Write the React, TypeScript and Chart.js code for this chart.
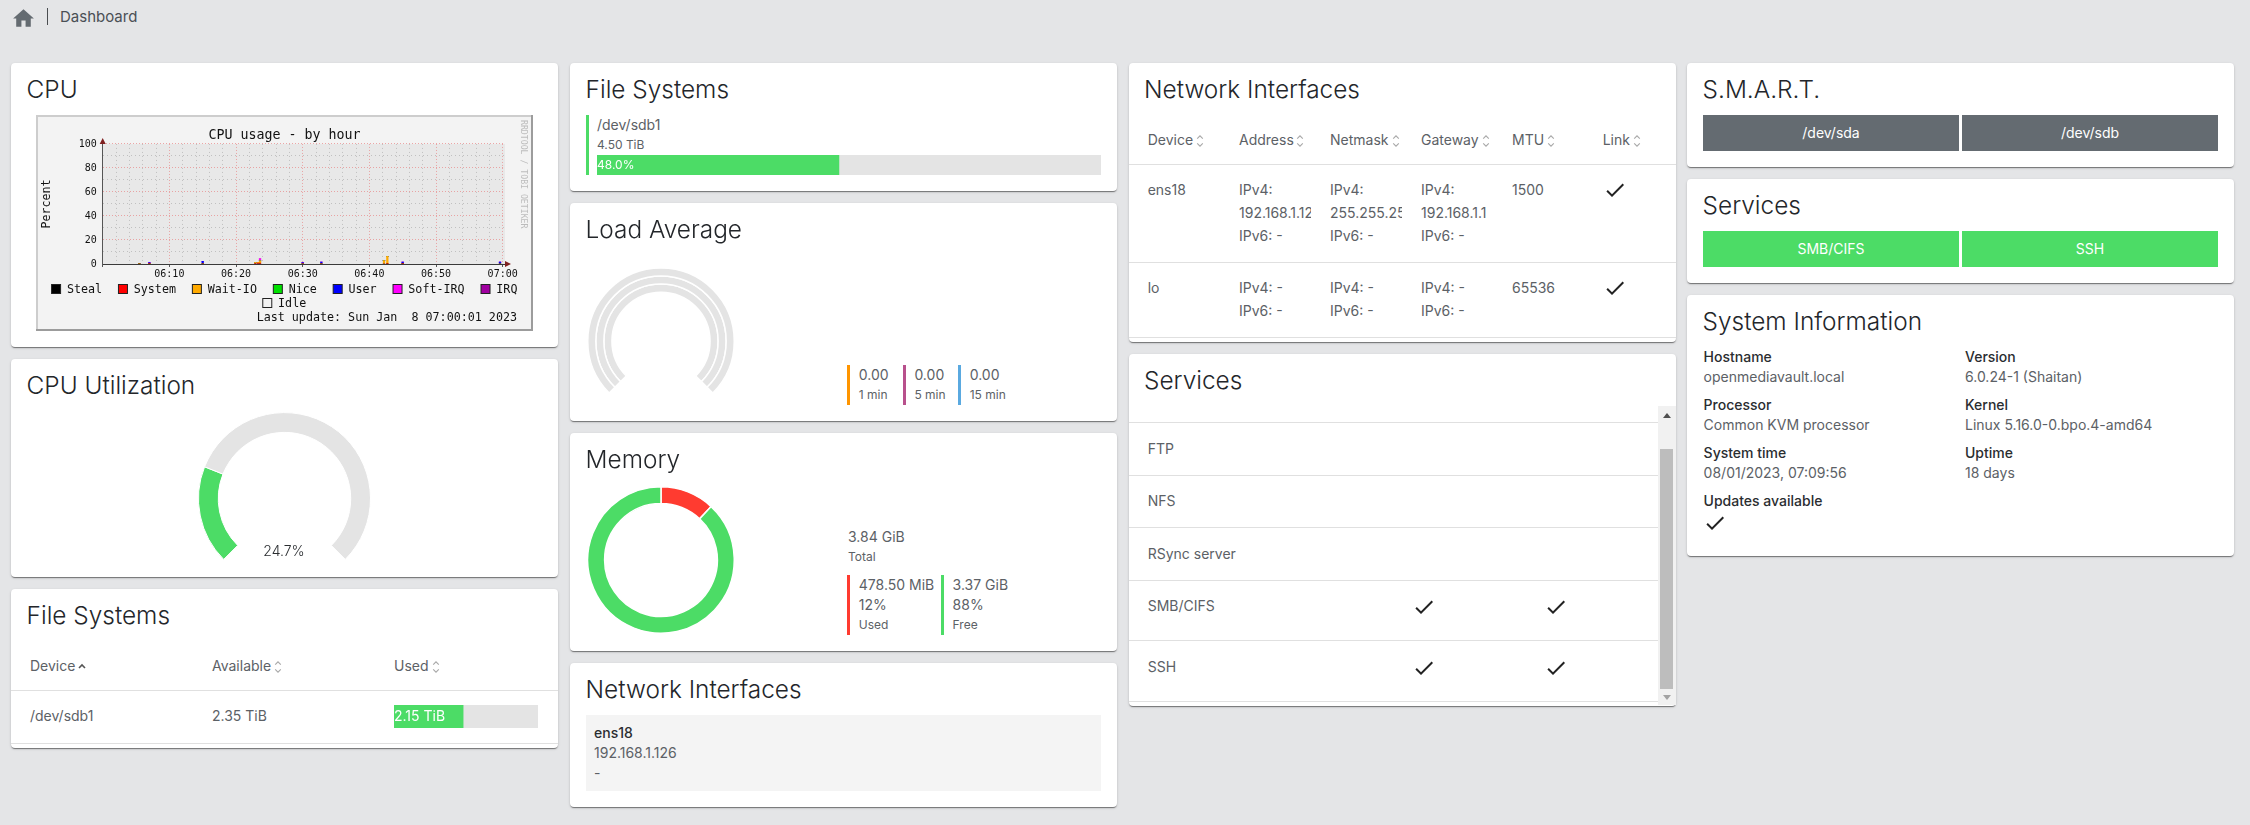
import React, { useEffect, useRef } from "react";
import { Chart, registerables } from "chart.js";

Chart.register(...registerables);

// ---------- data ----------
const cpuMinutes = [5.5, 7, 15, 22.9, 23.3, 23.6, 30, 32.8, 42.2, 42.7, 45, 59.6];
const cpuSteal = [0, 0, 0, 0, 0, 0, 0, 0, 0, 0, 0, 0];
const cpuSystem = [0, 0.3, 0.4, 0.6, 0.8, 0.8, 0.4, 0.4, 0, 0.3, 0.3, 0];
const cpuWaitIo = [0.5, 0, 0, 0.8, 0.6, 1.8, 0, 0, 2.8, 6, 0, 0];
const cpuNice = [0, 0, 0, 0, 0, 0, 0, 0, 0, 0, 0, 0];
const cpuUser = [0, 0.8, 1.9, 0, 0, 0, 0.8, 1.1, 0, 0, 1.2, 1.5];
const cpuSoftIrq = [0, 0, 0, 0, 0, 1.8, 0, 0.2, 0, 0, 0, 0];
const cpuIrq = [0, 0, 0, 0, 0, 0, 0, 0, 0, 0, 0, 0];
const cpuIdle = [99.5, 98.9, 97.7, 98.6, 98.6, 95.6, 98.8, 98.3, 97.2, 93.7, 98.5, 98.5];
const cpuLabels = ["Steal", "System", "Wait-IO", "Nice", "User", "Soft-IRQ", "IRQ", "Idle"];
const cpuColors = ["#000000", "#ff0000", "#ffaa00", "#00e000", "#0000ff", "#ff00ff", "#a000a0", "rgba(0,0,0,0)"];
const xTickValues = [10, 20, 30, 40, 50, 60];
const xTickLabels = ["06:10", "06:20", "06:30", "06:40", "06:50", "07:00"];
const yTickValues = [0, 20, 40, 60, 80, 100];
const yTickLabels = ["0", "20", "40", "60", "80", "100"];

const cpuUtilValues = [24.7, 75.3];
const loadOne = [0, 100];
const loadFive = [0, 100];
const loadFifteen = [0, 100];
const memoryLabels = ["Used", "Free"];
const memoryValues = [12, 88];
const fsSummaryUsed = [48];
const fsTableUsed = [48];

const GREEN = "#4cdc66";
const RED = "#ff3b30";
const TRACK = "#e4e4e4";
const MONO = '"DejaVu Sans Mono"';
const FONT = 'Inter, "Noto Sans", sans-serif';
const TXT = "#5c6166";
const DARK = "#2a2d30";
const GRID_MAJOR = "rgba(232,140,140,0.75)";
const GRID_MINOR = "rgba(165,165,165,0.6)";

// ---------- chart plumbing ----------
function ChartCanvas({ config, x, y, w, h }: any) {
  const ref = useRef<HTMLCanvasElement>(null);
  useEffect(() => {
    const chart = new Chart(ref.current as HTMLCanvasElement, config());
    return () => chart.destroy();
  }, []);
  return (
    <canvas
      ref={ref}
      width={w}
      height={h}
      style={{ position: "absolute", left: x, top: y, width: w, height: h, display: "block" }}
    />
  );
}

const rrdDecor = {
  id: "rrdDecor",
  beforeDraw(chart: any) {
    const { ctx, width, height, chartArea: a } = chart;
    ctx.save();
    ctx.fillStyle = "#f3f3f3";
    ctx.fillRect(0, 0, width, height);
    ctx.fillStyle = "#e8e8e8";
    ctx.fillRect(a.left, a.top, a.right - a.left, a.bottom - a.top);
    ctx.restore();
  },
  afterDraw(chart: any) {
    const { ctx, width, height, chartArea: a } = chart;
    ctx.save();
    // frame
    ctx.fillStyle = "#cdcdcd";
    ctx.fillRect(0, 0, width, 2);
    ctx.fillRect(0, 0, 2, height);
    ctx.fillStyle = "#9c9c9c";
    ctx.fillRect(0, height - 2, width, 2);
    ctx.fillRect(width - 2, 0, 2, height);
    // axis arrows
    ctx.fillStyle = "#7f2020";
    ctx.beginPath();
    ctx.moveTo(a.left - 3, a.top);
    ctx.lineTo(a.left + 3, a.top);
    ctx.lineTo(a.left, a.top - 6);
    ctx.fill();
    ctx.beginPath();
    ctx.moveTo(a.right, a.bottom - 3);
    ctx.lineTo(a.right, a.bottom + 3);
    ctx.lineTo(a.right + 6, a.bottom);
    ctx.fill();
    // legend
    ctx.font = `11.7px ${MONO}`;
    ctx.textBaseline = "middle";
    const box = 9;
    const gap = 6.3;
    const pad = 16.4;
    const maxW = 482;
    const rows: any[][] = [[]];
    let rowW = 0;
    chart.data.datasets.forEach((d: any) => {
      const w = box + gap + ctx.measureText(d.label).width;
      if (rowW + w > maxW) {
        rows.push([]);
        rowW = 0;
      }
      rows[rows.length - 1].push({ d, w });
      rowW += w + pad;
    });
    rows.forEach((row, r) => {
      const total = row.reduce((s, it) => s + it.w, 0) + pad * (row.length - 1);
      let lx = width / 2 - total / 2;
      const ly = 174 + r * 14;
      row.forEach((it) => {
        ctx.fillStyle = it.d.label === "Idle" ? "#f3f3f3" : it.d.backgroundColor;
        ctx.fillRect(lx, ly - box / 2, box, box);
        ctx.strokeStyle = "#222";
        ctx.lineWidth = 1;
        ctx.strokeRect(lx, ly - box / 2, box, box);
        ctx.fillStyle = "#111";
        ctx.textAlign = "left";
        ctx.fillText(it.d.label, lx + box + gap, ly + 0.5);
        lx += it.w + pad;
      });
    });
    ctx.textAlign = "right";
    ctx.fillStyle = "#111";
    ctx.fillText("Last update: Sun Jan  8 07:00:01 2023", 481, 202.5);
    // watermark
    ctx.translate(487, 5);
    ctx.rotate(Math.PI / 2);
    ctx.font = `8.2px ${MONO}`;
    ctx.textAlign = "left";
    ctx.fillStyle = "#bcbcbc";
    ctx.fillText("RRDTOOL / TOBI OETIKER", 0, 0);
    ctx.restore();
  },
};

const series = (vals: number[]) => vals.map((v, i) => ({ x: cpuMinutes[i], y: v }));
const cpuSeries = [cpuSteal, cpuSystem, cpuWaitIo, cpuNice, cpuUser, cpuSoftIrq, cpuIrq, cpuIdle];

const cpuConfig = () => ({
  type: "bar",
  data: {
    datasets: cpuSeries.map((vals, i) => ({
      label: cpuLabels[i],
      data: series(vals),
      backgroundColor: cpuColors[i],
      barThickness: 1.6,
    })),
  },
  plugins: [rrdDecor],
  options: {
    animation: false,
    responsive: false,
    devicePixelRatio: 1,
    layout: { padding: 0 },
    plugins: {
      legend: { display: false },
      tooltip: { enabled: false },
      title: {
        display: true,
        text: "CPU usage - by hour",
        color: "#111",
        font: { family: MONO, size: 13.3, weight: "normal" },
        padding: { top: 13, bottom: 0 },
      },
    },
    scales: {
      x: {
        type: "linear",
        stacked: true,
        offset: false,
        min: 0,
        max: 60.35,
        afterFit: (s: any) => {
          s.height = 67;
        },
        border: { color: "#3a3a3a", width: 1, dash: (c: any) => (c.tick && c.tick.value % 10 === 0 ? [1, 2] : [1, 3]) },
        grid: {
          offset: false,
          color: (c: any) => (c.tick.value % 10 === 0 ? GRID_MAJOR : GRID_MINOR),
          tickColor: "#555",
          tickLength: 3,
          tickWidth: (c: any) => (c.tick.value % 10 === 0 ? 1 : 0),
        },
        ticks: {
          stepSize: 2,
          includeBounds: false,
          autoSkip: false,
          maxRotation: 0,
          padding: 1,
          color: "#111",
          font: { family: MONO, size: 10 },
          callback: (v: number) => {
            const i = xTickValues.indexOf(v);
            return i < 0 ? "" : xTickLabels[i];
          },
        },
      },
      y: {
        stacked: true,
        min: 0,
        max: 100,
        afterFit: (s: any) => {
          s.width = 66.7;
        },
        border: { color: "#555", width: 1, dash: (c: any) => (c.tick && c.tick.value % 20 === 0 ? [1, 2] : [1, 3]) },
        title: {
          display: true,
          text: "Percent",
          color: "#111",
          font: { family: MONO, size: 11.7, weight: "normal" },
          padding: { top: 4, bottom: 0 },
        },
        grid: {
          drawTicks: false,
          color: (c: any) => (c.tick.value % 20 === 0 ? GRID_MAJOR : GRID_MINOR),
        },
        ticks: {
          stepSize: 10,
          autoSkip: false,
          padding: 6,
          color: "#111",
          font: { family: MONO, size: 10 },
          callback: (v: number) => {
            const i = yTickValues.indexOf(v);
            return i < 0 ? "" : yTickLabels[i];
          },
        },
      },
      // empty right-hand axis: keeps the plot clear of the watermark margin
      margin: {
        type: "linear",
        position: "right",
        afterFit: (s: any) => {
          s.width = 28;
        },
        grid: { display: false, drawTicks: false },
        border: { display: false },
        ticks: { display: false },
      },
    },
  },
});

const doughnutBase = (cutout: string, rotation: number, circumference: number) => ({
  animation: false,
  responsive: false,
  devicePixelRatio: 1,
  cutout,
  rotation,
  circumference,
  layout: { padding: 0 },
  plugins: { legend: { display: false }, tooltip: { enabled: false } },
});

const cpuGaugeConfig = () => ({
  type: "doughnut",
  data: {
    labels: ["Used", "Idle"],
    datasets: [{ data: cpuUtilValues, backgroundColor: [GREEN, TRACK], borderColor: "#fff", borderWidth: 1 }],
  },
  options: doughnutBase("77%", -135, 270),
});

const loadConfig = () => ({
  type: "doughnut",
  data: {
    labels: ["Load", "Rest"],
    datasets: [
      { data: loadOne, backgroundColor: ["#ff9500", TRACK], borderColor: "#fff", borderWidth: [0, 1.5] },
      { data: loadFive, backgroundColor: ["#b8508c", TRACK], borderColor: "#fff", borderWidth: [0, 1.5] },
      { data: loadFifteen, backgroundColor: ["#5aa9e0", TRACK], borderColor: "#fff", borderWidth: [0, 1.5] },
    ],
  },
  options: doughnutBase("67%", -135, 270),
});

const memoryConfig = () => ({
  type: "doughnut",
  data: {
    labels: memoryLabels,
    datasets: [{ data: memoryValues, backgroundColor: [RED, GREEN], borderColor: "#fff", borderWidth: 1.5 }],
  },
  options: doughnutBase("77%", 0, 360),
});

const progressConfig = (vals: number[]) => () => ({
  type: "bar",
  data: {
    labels: ["used"],
    datasets: [
      {
        data: vals,
        backgroundColor: GREEN,
        barPercentage: 1,
        categoryPercentage: 1,
      },
    ],
  },
  options: {
    animation: false,
    responsive: false,
    devicePixelRatio: 1,
    indexAxis: "y",
    layout: { padding: 0 },
    plugins: { legend: { display: false }, tooltip: { enabled: false } },
    scales: {
      x: { display: false, min: 0, max: 100 },
      y: { display: false },
    },
  },
});

// ---------- page pieces ----------
function Card({ x, y, r, b }: any) {
  return (
    <div
      style={{
        position: "absolute",
        left: x,
        top: y,
        width: r - x,
        height: b - y,
        background: "#fff",
        borderRadius: 4,
        boxShadow: "0 2px 1px -1px rgba(0,0,0,.3), 0 1px 1px 0 rgba(0,0,0,.2), 0 1px 3px 0 rgba(0,0,0,.14)",
      }}
    />
  );
}

function T({ x, y, s = 14, c = TXT, w = 400, a, clip, children }: any) {
  return (
    <div
      style={{
        position: "absolute",
        left: a === "center" ? x - 150 : x,
        width: a === "center" ? 300 : clip,
        top: y - 12,
        height: 24,
        lineHeight: "24px",
        fontSize: s,
        fontWeight: w,
        color: c,
        fontFamily: FONT,
        whiteSpace: "nowrap",
        textAlign: a || "left",
        overflow: clip ? "hidden" : "visible",
      }}
    >
      {children}
    </div>
  );
}

const Title = ({ x, y, children }: any) => (
  <T x={x - 1.4} y={y + 1.4} s={24.4} c="#23262a" w={300}>
    {children}
  </T>
);

const Box = ({ x, y, r, b, c }: any) => (
  <div style={{ position: "absolute", left: x, top: y, width: r - x, height: b - y, background: c }} />
);

const Line = ({ x, r, y }: any) => <Box x={x} r={r} y={y} b={y + 1} c="#e0e0e0" />;

const Check = ({ cx, cy }: any) => (
  <svg width={24} height={24} viewBox="0 0 24 24" style={{ position: "absolute", left: cx - 12.2, top: cy - 12.3 }}>
    <path d="M9 16.17L4.83 12l-1.42 1.41L9 19 21 7l-1.41-1.41z" fill="#222" />
  </svg>
);

const Sort = ({ cx, cy }: any) => (
  <svg width={8} height={14} viewBox="0 0 8 14" style={{ position: "absolute", left: cx - 4, top: cy - 6.5 }}>
    <path d="M1.2 4.6L4 1.8l2.8 2.8M1.2 9.4L4 12.2l2.8-2.8" fill="none" stroke="#a8a8a8" strokeWidth="1.1" />
  </svg>
);

const SortUp = ({ cx, cy }: any) => (
  <svg width={8} height={6} viewBox="0 0 8 6" style={{ position: "absolute", left: cx - 4, top: cy - 3 }}>
    <path d="M1 5L4 2l3 3" fill="none" stroke="#555" strokeWidth="1.6" />
  </svg>
);

const Tri = ({ cx, cy, up, c }: any) => (
  <svg width={8} height={5} viewBox="0 0 8 5" style={{ position: "absolute", left: cx - 4, top: cy - 2.5 }}>
    <path d={up ? "M0 5L4 0l4 5z" : "M0 0l4 5 4-5z"} fill={c} />
  </svg>
);

const Button = ({ x, r, y, b, c, children }: any) => (
  <>
    <Box x={x} r={r} y={y} b={b} c={c} />
    <T x={(x + r) / 2} y={(y + b) / 2} c="#fff" a="center">
      {children}
    </T>
  </>
);

const netHead = [
  ["Device", 1147.7, 1200],
  ["Address", 1239, 1300.3],
  ["Netmask", 1330, 1395.5],
  ["Gateway", 1421, 1486],
  ["MTU", 1512, 1550.8],
  ["Link", 1602.7, 1637],
];

export default function App() {
  return (
    <div
      style={{
        position: "fixed",
        left: 0,
        top: 0,
        width: 2250,
        height: 825,
        overflow: "hidden",
        background: "#e4e5e7",
      }}
    >
      {/* header */}
      <svg width={25} height={25} viewBox="0 0 24 24" style={{ position: "absolute", left: 10.5, top: 5.5 }}>
        <path d="M10 20v-6h4v6h5v-8h3L12 3 2 12h3v8z" fill="#646b71" />
      </svg>
      <Box x={47} r={48} y={8} b={25} c="#4a4d50" />
      <T x={60} y={16.5} s={15} c="#4a4f55">Dashboard</T>

      {/* column 1 */}
      <Card x={11} y={63} r={558} b={347} />
      <Title x={28} y={88}>CPU</Title>
      <ChartCanvas config={cpuConfig} x={36} y={115} w={497} h={216} />

      <Card x={11} y={359} r={558} b={577} />
      <Title x={28} y={384}>CPU Utilization</Title>
      <ChartCanvas config={cpuGaugeConfig} x={198} y={412} w={173} h={148} />
      <T x={284} y={551} s={14} c={DARK} w={300} a="center">24.7%</T>

      <Card x={11} y={589} r={558} b={748} />
      <Title x={28} y={614}>File Systems</Title>
      <T x={30} y={666}>Device</T>
      <SortUp cx={82} cy={666} />
      <T x={212} y={666}>Available</T>
      <Sort cx={277.7} cy={666} />
      <T x={394} y={666}>Used</T>
      <Sort cx={435.5} cy={666} />
      <Line x={11} r={558} y={690} />
      <T x={30} y={716}>/dev/sdb1</T>
      <T x={212} y={716}>2.35 TiB</T>
      <Box x={394} r={538} y={705} b={728} c={TRACK} />
      <ChartCanvas config={progressConfig(fsTableUsed)} x={394} y={705} w={144} h={23} />
      <T x={394} y={716} c="#fff">2.15 TiB</T>
      <Line x={11} r={558} y={743} />

      {/* column 2 */}
      <Card x={570} y={63} r={1117} b={191} />
      <Title x={587} y={88}>File Systems</Title>
      <Box x={586} r={589} y={115} b={175} c={GREEN} />
      <T x={597} y={125}>/dev/sdb1</T>
      <T x={597} y={145} s={12}>4.50 TiB</T>
      <Box x={597} r={1101} y={155} b={175} c={TRACK} />
      <ChartCanvas config={progressConfig(fsSummaryUsed)} x={597} y={155} w={504} h={20} />
      <T x={597} y={165} s={12} c="#fff">48.0%</T>

      <Card x={570} y={203} r={1117} b={421} />
      <Title x={587} y={228}>Load Average</Title>
      <ChartCanvas config={loadConfig} x={587} y={267} w={148} h={127} />
      <Box x={847} r={850} y={365} b={405} c="#ff9500" />
      <T x={858.8} y={375}>0.00</T>
      <T x={858.8} y={395} s={12}>1 min</T>
      <Box x={903} r={906} y={365} b={405} c="#b8508c" />
      <T x={914.4} y={375}>0.00</T>
      <T x={914.4} y={395} s={12}>5 min</T>
      <Box x={958} r={961} y={365} b={405} c="#5aa9e0" />
      <T x={969.7} y={375}>0.00</T>
      <T x={969.7} y={395} s={12}>15 min</T>

      <Card x={570} y={433} r={1117} b={651} />
      <Title x={587} y={458}>Memory</Title>
      <ChartCanvas config={memoryConfig} x={587} y={486} w={148} h={148} />
      <T x={848} y={537}>3.84 GiB</T>
      <T x={848} y={556.7} s={12}>Total</T>
      <Box x={847} r={850} y={575} b={635} c={RED} />
      <T x={858.8} y={585}>478.50 MiB</T>
      <T x={858.8} y={605}>12%</T>
      <T x={858.8} y={625} s={12}>Used</T>
      <Box x={941} r={944} y={575} b={635} c={GREEN} />
      <T x={952.6} y={585}>3.37 GiB</T>
      <T x={952.6} y={605}>88%</T>
      <T x={952.6} y={625} s={12}>Free</T>

      <Card x={570} y={663} r={1117} b={807} />
      <Title x={587} y={688}>Network Interfaces</Title>
      <Box x={586} r={1101} y={715} b={791} c="#f4f4f4" />
      <T x={594} y={733} w={500} c={DARK}>ens18</T>
      <T x={594} y={753}>192.168.1.126</T>
      <T x={594} y={773}>-</T>

      {/* column 3 */}
      <Card x={1129} y={63} r={1676} b={342} />
      <Title x={1145.4} y={88}>Network Interfaces</Title>
      {netHead.map(([label, x, sx]: any) => (
        <React.Fragment key={label}>
          <T x={x} y={140}>{label}</T>
          <Sort cx={sx} cy={140} />
        </React.Fragment>
      ))}
      <Line x={1129} r={1676} y={164} />
      <T x={1147.7} y={190}>ens18</T>
      <T x={1239} y={190}>IPv4:</T>
      <T x={1239} y={213} clip={72}>192.168.1.126</T>
      <T x={1239} y={236}>IPv6: -</T>
      <T x={1330} y={190}>IPv4:</T>
      <T x={1330} y={213} clip={72}>255.255.255.0</T>
      <T x={1330} y={236}>IPv6: -</T>
      <T x={1421} y={190}>IPv4:</T>
      <T x={1421} y={213} clip={72}>192.168.1.1</T>
      <T x={1421} y={236}>IPv6: -</T>
      <T x={1512} y={190}>1500</T>
      <Check cx={1615} cy={190.7} />
      <Line x={1129} r={1676} y={262} />
      <T x={1147.7} y={288}>lo</T>
      <T x={1239} y={288}>IPv4: -</T>
      <T x={1239} y={311}>IPv6: -</T>
      <T x={1330} y={288}>IPv4: -</T>
      <T x={1330} y={311}>IPv6: -</T>
      <T x={1421} y={288}>IPv4: -</T>
      <T x={1421} y={311}>IPv6: -</T>
      <T x={1512} y={288}>65536</T>
      <Check cx={1615} cy={288.7} />
      <Line x={1129} r={1676} y={337} />

      <Card x={1129} y={354} r={1676} b={706} />
      <Title x={1145.4} y={379}>Services</Title>
      <Line x={1129} r={1658} y={422} />
      <T x={1147.7} y={449}>FTP</T>
      <Line x={1129} r={1658} y={475} />
      <T x={1147.7} y={501}>NFS</T>
      <Line x={1129} r={1658} y={527} />
      <T x={1147.7} y={554}>RSync server</T>
      <Line x={1129} r={1658} y={580} />
      <T x={1147.7} y={606}>SMB/CIFS</T>
      <Check cx={1424} cy={607} />
      <Check cx={1556} cy={607} />
      <Line x={1129} r={1658} y={640} />
      <T x={1147.7} y={667}>SSH</T>
      <Check cx={1424} cy={668} />
      <Check cx={1556} cy={668} />
      <Line x={1129} r={1658} y={701} />
      <Box x={1658} r={1676} y={406} b={705} c="#f1f1f1" />
      <Box x={1660} r={1673} y={449} b={689} c="#bdbdbd" />
      <Tri cx={1666.5} cy={415} up c="#505050" />
      <Tri cx={1666.5} cy={697} c="#a3a3a3" />

      {/* column 4 */}
      <Card x={1687} y={63} r={2234} b={167} />
      <Title x={1704} y={88}>S.M.A.R.T.</Title>
      <Button x={1703} r={1959} y={115} b={151} c="#646b71">/dev/sda</Button>
      <Button x={1962} r={2218} y={115} b={151} c="#646b71">/dev/sdb</Button>

      <Card x={1687} y={179} r={2234} b={283} />
      <Title x={1704} y={204}>Services</Title>
      <Button x={1703} r={1959} y={231} b={267} c={GREEN}>SMB/CIFS</Button>
      <Button x={1962} r={2218} y={231} b={267} c={GREEN}>SSH</Button>

      <Card x={1687} y={295} r={2234} b={556} />
      <Title x={1704} y={320}>System Information</Title>
      <T x={1703.6} y={357} w={500} c={DARK}>Hostname</T>
      <T x={1703.6} y={377}>openmediavault.local</T>
      <T x={1965} y={357} w={500} c={DARK}>Version</T>
      <T x={1965} y={377}>6.0.24-1 (Shaitan)</T>
      <T x={1703.6} y={405} w={500} c={DARK}>Processor</T>
      <T x={1703.6} y={425}>Common KVM processor</T>
      <T x={1965} y={405} w={500} c={DARK}>Kernel</T>
      <T x={1965} y={425}>Linux 5.16.0-0.bpo.4-amd64</T>
      <T x={1703.6} y={453} w={500} c={DARK}>System time</T>
      <T x={1703.6} y={473}>08/01/2023, 07:09:56</T>
      <T x={1965} y={453} w={500} c={DARK}>Uptime</T>
      <T x={1965} y={473}>18 days</T>
      <T x={1703.6} y={501} w={500} c={DARK}>Updates available</T>
      <Check cx={1715} cy={523} />
    </div>
  );
}
